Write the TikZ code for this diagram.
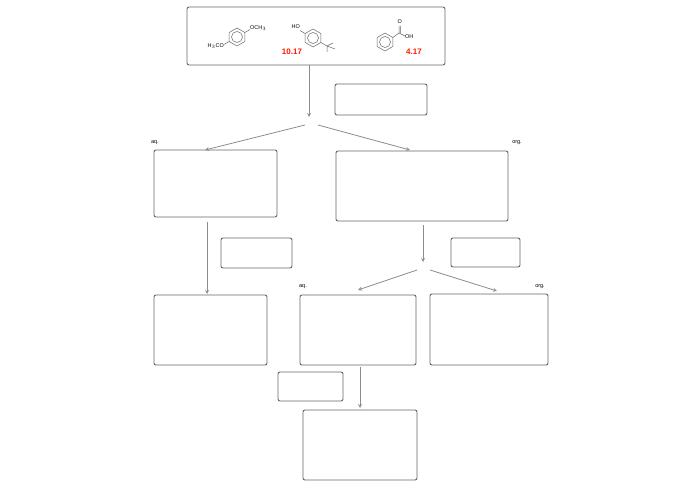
\documentclass[tikz,border=0pt]{standalone}
\usepackage{fontspec}
\setmainfont{Liberation Sans}
\begin{document}
\begin{tikzpicture}[x=1pt,y=-1pt,
  bx/.style={draw=black!60,line width=0.9pt,rounded corners=2pt},
  ar/.style={draw=black!45,line width=0.8pt,-stealth},
  lbl/.style={font=\fontsize{5.5}{5.5}\selectfont,inner sep=0pt},
  pk/.style={font=\bfseries\fontsize{8}{8}\selectfont,text=red!80!orange,inner sep=0pt},
  bond/.style={draw=black!60,line width=0.5pt}]
\useasboundingbox (0,0) rectangle (700,486);
\fill[white] (0,0) rectangle (700,486);
\draw[bx] (187,7) rectangle (445,65);
\coordinate (topb) at (309,65);
\draw[bx] (335,84) rectangle (427,115);
\draw[bx] (154,150) rectangle (277,217);
\draw[bx] (336,151) rectangle (508,221);
\draw[bx] (221,238) rectangle (292,268);
\draw[bx] (451,238) rectangle (520,267);
\draw[bx] (154,295) rectangle (267,365);
\draw[bx] (300,295) rectangle (416,365);
\draw[bx] (430,294) rectangle (548,365);
\draw[bx] (278,372) rectangle (343,401);
\draw[bx] (303,410) rectangle (417,480);
% connectors
\coordinate (a1) at (309,117);
\draw[ar] (topb) -- (a1);
\coordinate (s1) at (305,125); \coordinate (e1) at (205,150);
\coordinate (s2) at (318,125); \coordinate (e2) at (410,150);
\draw[ar] (s1) -- (e1); \draw[ar] (s2) -- (e2);
\node[lbl] (aq1) at (155,143) {aq.};
\node[lbl] (org1) at (517,143) {org.};
\coordinate (l1) at (207,222); \coordinate (l2) at (207,294);
\draw[ar] (l1) -- (l2);
\coordinate (r1) at (423,225); \coordinate (r2) at (423,262);
\draw[ar] (r1) -- (r2);
\coordinate (s3) at (417,270); \coordinate (e3) at (358,290);
\coordinate (s4) at (430,270); \coordinate (e4) at (497,291);
\draw[ar] (s3) -- (e3); \draw[ar] (s4) -- (e4);
\node[lbl] (aq2) at (303,287) {aq.};
\node[lbl] (org2) at (540,287) {org.};
\coordinate (m1) at (360,367); \coordinate (m2) at (360,408);
\draw[ar] (m1) -- (m2);
% rings
\foreach \cx/\cy in {237/37, 313/38, 385/42}{
  \draw[bond,shift={(\cx,\cy)}] (30:9) -- (90:9) -- (150:9) -- (210:9) -- (270:9) -- (330:9) -- cycle;
  \draw[bond] (\cx,\cy) circle (5.5);
}
% mol1
\draw[bond] (229.2,41.5) -- (224,44.5);
\draw[bond] (244.8,32.5) -- (250,29.5);
\node[lbl,anchor=west] (och3) at (250,28) {OCH$_3$};
\node[lbl,anchor=east] (h3co) at (224,46) {H$_3$CO};
% mol2
\draw[bond] (305.2,33.5) -- (300,30.5);
\node[lbl,anchor=east] (ho) at (300,27) {HO};
\draw[bond] (320.8,42.5) -- (327,46) -- (333,43) (327,46) -- (327,52) (327,46) -- (335,49);
% mol3
\draw[bond] (392.8,37.5) -- (399,33) -- (399,26) (400.5,33) -- (400.5,26) (399,33) -- (405,36);
\node[lbl] (o) at (399.7,22) {O};
\node[lbl,anchor=west] (oh) at (405,37) {OH};
\node[pk] (pk1) at (292,52) {10.17};
\node[pk] (pk2) at (414,52) {4.17};
\end{tikzpicture}
\end{document}
